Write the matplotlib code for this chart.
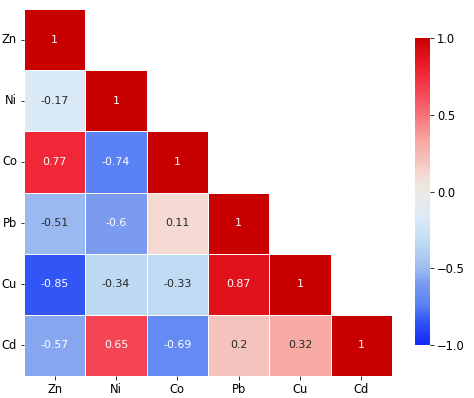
import numpy as np
import matplotlib
matplotlib.use("Agg")
import matplotlib.pyplot as plt
from matplotlib.colors import LinearSegmentedColormap
import seaborn as sns

labels = ["Zn", "Ni", "Co", "Pb", "Cu", "Cd"]

# lower triangle of the correlation matrix, row by row
rows = [
    [1],
    [-0.17, 1],
    [0.77, -0.74, 1],
    [-0.51, -0.6, 0.11, 1],
    [-0.85, -0.34, -0.33, 0.87, 1],
    [-0.57, 0.65, -0.69, 0.2, 0.32, 1],
]

n = len(labels)
corr = np.zeros((n, n))
for i, r in enumerate(rows):
    for j, v in enumerate(r):
        corr[i, j] = v
        corr[j, i] = v
mask = np.triu(np.ones_like(corr, dtype=bool), k=1)

def rgb(r, g, b):
    return (r / 255, g / 255, b / 255)

# colours picked off the cells
cmap = LinearSegmentedColormap.from_list("corr", [
    (0.0, rgb(20, 40, 250)),
    (0.075, rgb(50, 85, 245)),
    (0.13, rgb(90, 130, 245)),
    (0.2, rgb(122, 155, 238)),
    (0.245, rgb(155, 186, 240)),
    (0.33, rgb(190, 218, 243)),
    (0.415, rgb(218, 234, 247)),
    (0.5, rgb(236, 234, 228)),
    (0.555, rgb(245, 218, 212)),
    (0.6, rgb(245, 195, 190)),
    (0.66, rgb(248, 170, 165)),
    (0.825, rgb(245, 70, 85)),
    (0.885, rgb(240, 40, 55)),
    (0.935, rgb(225, 20, 30)),
    (1.0, rgb(200, 0, 0)),
])

fig = plt.figure(figsize=(474 / 72, 398 / 72), dpi=72)
ax = fig.add_axes([24 / 474, 1 - 376 / 398, 368 / 474, 367 / 398])
cax = fig.add_axes([415 / 474, 1 - 345 / 398, 15 / 474, 307 / 398])

sns.heatmap(corr, mask=mask, cmap=cmap, vmin=-1, vmax=1, annot=True,
            annot_kws={"size": 11}, linewidths=1, linecolor="white",
            xticklabels=labels, yticklabels=labels, ax=ax, cbar_ax=cax)
ax.tick_params(labelsize=11.5)
ax.set_yticklabels(labels, rotation=0)
cax.tick_params(labelsize=11.5)
cax.set_yticks([-1, -0.5, 0, 0.5, 1])

fig.savefig("out.png", dpi=72)
